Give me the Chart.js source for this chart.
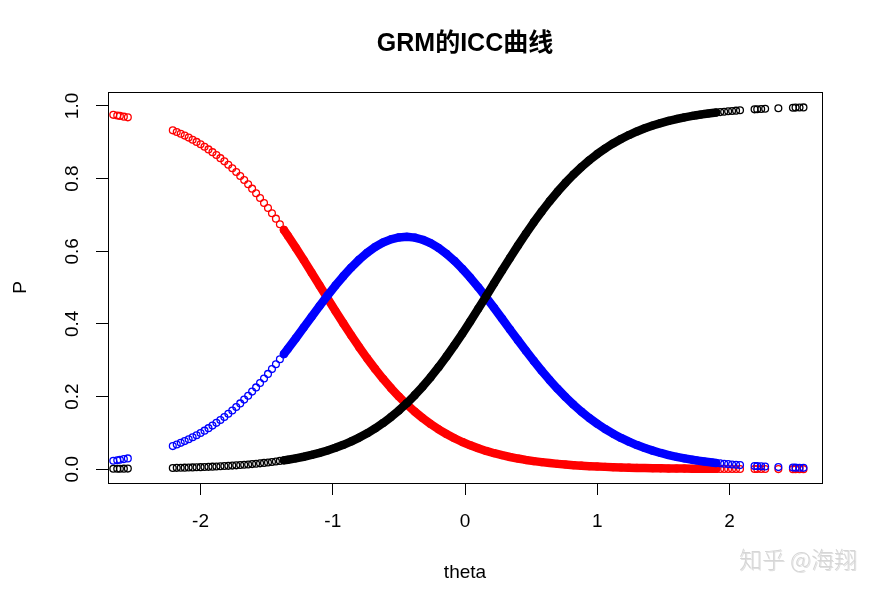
<!DOCTYPE html>
<html><head><meta charset="utf-8">
<script src="https://cdn.jsdelivr.net/npm/chart.js@4.4.1/dist/chart.umd.min.js"></script>
<style>html,body{margin:0;padding:0;background:#fff;}canvas{display:block;}</style>
</head><body>
<canvas id="c" width="881" height="595"></canvas>
<script>
// ---- data ----
const theta = [
 -2.66,-2.63,-2.61,-2.58,-2.55,
 -2.21,-2.18,-2.15,-2.12,-2.09,-2.06,-2.03,-2.00,-1.97,-1.94,
 -1.91,-1.88,-1.85,-1.82,-1.79,-1.76,-1.73,-1.70,-1.67,-1.64,
 -1.61,-1.58,-1.55,-1.52,-1.49,-1.46,-1.43,-1.40,-1.37,
 -1.34,-1.28,-1.22,-1.16,-1.10,-1.04,-0.98,-0.92,-0.86,-0.80,
 -0.74,-0.68,-0.62,-0.56,-0.50,-0.44,-0.38,-0.32,-0.26,-0.20,
 -0.14,-0.08,-0.02,0.04,0.10,0.16,0.22,0.28,0.34,0.40,
 0.46,0.52,0.58,0.64,0.70,0.76,0.82,0.88,0.94,1.00,
 1.06,1.12,1.18,1.24,1.30,1.36,1.42,1.48,1.54,1.60,
 1.66,1.72,
 1.75,1.78,1.81,1.84,1.87,1.90,1.93,1.96,1.99,2.02,2.05,2.08,
 2.19,2.21,2.24,2.27,2.37,2.48,2.50,2.53,2.56
];
const pCategory1 = [ // red
 0.9756,0.9739,0.9727,0.9707,0.9687,
 0.9329,0.9283,0.9235,0.9184,0.9129,0.9072,0.9011,0.8946,0.8878,0.8805,
 0.8729,0.8649,0.8564,0.8476,0.8382,0.8284,0.8182,0.8074,0.7962,0.7846,
 0.7724,0.7598,0.7467,0.7331,0.7191,0.7046,0.6898,0.6745,0.6588,
 0.6428,0.6098,0.5758,0.5410,0.5059,0.4707,0.4357,0.4014,0.3681,0.3359,
 0.3052,0.2762,0.2489,0.2235,0.2000,0.1784,0.1586,0.1407,0.1245,0.1099,
 0.0969,0.0852,0.0749,0.0657,0.0575,0.0503,0.0440,0.0385,0.0336,0.0293,
 0.0255,0.0222,0.0194,0.0169,0.0147,0.0128,0.0111,0.0097,0.0084,0.0073,
 0.0064,0.0055,0.0048,0.0042,0.0036,0.0032,0.0027,0.0024,0.0021,0.0018,
 0.0016,0.0014,
 0.0013,0.0012,0.0011,0.0010,0.0010,0.0009,0.0008,0.0008,0.0007,0.0007,0.0006,0.0006,
 0.0004,0.0004,0.0004,0.0004,0.0003,0.0002,0.0002,0.0002,0.0002
];
const pCategory2 = [ // blue
 0.0232,0.0248,0.0260,0.0278,0.0297,
 0.0636,0.0680,0.0725,0.0773,0.0825,0.0879,0.0936,0.0997,0.1061,0.1130,
 0.1201,0.1276,0.1356,0.1438,0.1526,0.1617,0.1712,0.1812,0.1916,0.2023,
 0.2136,0.2252,0.2372,0.2496,0.2624,0.2756,0.2890,0.3027,0.3168,
 0.3311,0.3603,0.3899,0.4197,0.4491,0.4778,0.5055,0.5315,0.5554,0.5770,
 0.5959,0.6116,0.6240,0.6329,0.6382,0.6398,0.6376,0.6317,0.6222,0.6092,
 0.5929,0.5736,0.5515,0.5272,0.5010,0.4732,0.4443,0.4146,0.3849,0.3553,
 0.3263,0.2982,0.2711,0.2454,0.2213,0.1987,0.1778,0.1586,0.1410,0.1251,
 0.1106,0.0977,0.0861,0.0757,0.0665,0.0583,0.0511,0.0447,0.0390,0.0341,
 0.0297,0.0259,
 0.0242,0.0226,0.0211,0.0198,0.0185,0.0172,0.0161,0.0149,0.0140,0.0130,0.0122,0.0113,
 0.0088,0.0084,0.0078,0.0073,0.0058,0.0045,0.0043,0.0040,0.0037
];
const pCategory3 = [ // black
 0.0012,0.0013,0.0014,0.0015,0.0016,
 0.0035,0.0037,0.0040,0.0043,0.0046,0.0049,0.0053,0.0057,0.0061,0.0065,
 0.0070,0.0075,0.0080,0.0086,0.0092,0.0099,0.0106,0.0114,0.0122,0.0131,
 0.0140,0.0150,0.0161,0.0173,0.0185,0.0198,0.0212,0.0228,0.0244,
 0.0261,0.0299,0.0343,0.0393,0.0450,0.0515,0.0588,0.0671,0.0765,0.0871,
 0.0989,0.1122,0.1271,0.1436,0.1618,0.1818,0.2038,0.2276,0.2533,0.2809,
 0.3102,0.3412,0.3736,0.4071,0.4415,0.4765,0.5117,0.5469,0.5815,0.6154,
 0.6482,0.6796,0.7095,0.7377,0.7640,0.7885,0.8111,0.8317,0.8506,0.8676,
 0.8830,0.8968,0.9091,0.9201,0.9299,0.9385,0.9462,0.9529,0.9589,0.9641,
 0.9687,0.9727,
 0.9745,0.9762,0.9778,0.9792,0.9806,0.9819,0.9831,0.9843,0.9853,0.9863,0.9872,0.9881,
 0.9908,0.9912,0.9918,0.9923,0.9939,0.9953,0.9955,0.9958,0.9961
];
const xTickValues = [-2, -1, 0, 1, 2];
const xTickLabels = ['-2', '-1', '0', '1', '2'];
const yTickValues = [0, 0.2, 0.4, 0.6, 0.8, 1.0];
const yTickLabels = ['0.0', '0.2', '0.4', '0.6', '0.8', '1.0'];
const titleText = 'GRM的ICC曲线';
const xAxisTitle = 'theta';
const yAxisTitle = 'P';
const watermarkText = '知乎 @海翔';

// ---- styling ----
const FONT = '"Liberation Sans", Arial, "Noto Sans CJK SC", sans-serif';
const DENSE_FROM = -1.38, DENSE_TO = 1.90; // where the cloud of circles reads as a solid band

function makeDataset(label, values, color) {
  return {
    label,
    data: theta.map((t, i) => ({ x: t, y: values[i] })),
    showLine: true,
    tension: 0,
    borderColor: color,
    borderWidth: 8.5,
    borderCapStyle: 'round',
    borderJoinStyle: 'round',
    backgroundColor: 'rgba(0,0,0,0)',
    pointStyle: 'circle',
    pointRadius: 3.4,
    pointHoverRadius: 3.4,
    pointBorderWidth: 1.3,
    pointBorderColor: color,
    pointBackgroundColor: 'rgba(0,0,0,0)',
    segment: {
      borderColor: c => (c.p0.parsed.x >= DENSE_FROM && c.p1.parsed.x <= DENSE_TO) ? color : 'rgba(0,0,0,0)'
    }
  };
}

const boxPlugin = {
  id: 'rbox',
  afterDatasetsDraw(chart) {
    const { ctx, chartArea: a } = chart;
    ctx.save();
    ctx.strokeStyle = '#000';
    ctx.lineWidth = 1;
    ctx.strokeRect(Math.round(a.left) + 0.5, Math.round(a.top) + 0.5,
                   Math.round(a.right - a.left), Math.round(a.bottom - a.top));
    ctx.restore();
  },
  afterDraw(chart) {
    const ctx = chart.ctx;
    ctx.save();
    ctx.font = '300 23px "Noto Sans CJK SC", sans-serif';
    ctx.textAlign = 'right';
    ctx.textBaseline = 'middle';
    ctx.shadowColor = 'rgba(0,0,0,0.12)';
    ctx.shadowOffsetX = 1; ctx.shadowOffsetY = 1; ctx.shadowBlur = 0;
    ctx.fillStyle = '#d6d6d6';
    ctx.fillText(watermarkText, 857, 559);
    ctx.restore();
  }
};

new Chart(document.getElementById('c'), {
  type: 'scatter',
  data: {
    datasets: [
      makeDataset('P3', pCategory3, '#000000'),
      makeDataset('P2', pCategory2, '#0000ff'),
      makeDataset('P1', pCategory1, '#ff0000')
    ]
  },
  options: {
    responsive: false,
    animation: false,
    devicePixelRatio: 1,
    events: [],
    layout: { padding: { left: 0, right: 59, top: 0, bottom: 0 } },
    plugins: {
      legend: { display: false },
      tooltip: { enabled: false },
      title: {
        display: true, fullSize: false, text: titleText, color: '#000',
        font: { family: FONT, size: 25, weight: 'bold', lineHeight: 1.2 },
        padding: { top: 29, bottom: 33 }
      }
    },
    scales: {
      x: {
        type: 'linear', min: -2.70, max: 2.70,
        afterBuildTicks: s => { s.ticks = xTickValues.map(v => ({ value: v })); },
        afterFit: s => { s.height = 112; },
        ticks: {
          autoSkip: false, maxRotation: 0, color: '#000', padding: 15,
          font: { family: FONT, size: 19, lineHeight: 1.2 },
          callback: v => xTickLabels[xTickValues.indexOf(v)]
        },
        grid: { display: true, drawOnChartArea: false, drawTicks: true, tickLength: 12, color: '#000', lineWidth: 1 },
        border: { display: false },
        title: { display: true, text: xAxisTitle, color: '#000',
                 font: { family: FONT, size: 19, lineHeight: 1.2 }, padding: { top: 0, bottom: 10.6 } }
      },
      y: {
        type: 'linear', min: -0.038, max: 1.0385,
        afterBuildTicks: s => { s.ticks = yTickValues.map(v => ({ value: v })); },
        afterFit: s => { s.width = 108; },
        ticks: {
          autoSkip: false, minRotation: 90, maxRotation: 90, crossAlign: 'center',
          color: '#000', padding: 9.8,
          font: { family: FONT, size: 19, lineHeight: 1.2 },
          callback: v => yTickLabels[yTickValues.indexOf(v)]
        },
        grid: { display: true, drawOnChartArea: false, drawTicks: true, tickLength: 12, color: '#000', lineWidth: 1 },
        border: { display: false },
        title: { display: true, text: yAxisTitle, color: '#000',
                 font: { family: FONT, size: 19, lineHeight: 1.2 }, padding: { top: 9.6, bottom: 0 } }
      }
    }
  },
  plugins: [boxPlugin]
});
</script>
</body></html>
